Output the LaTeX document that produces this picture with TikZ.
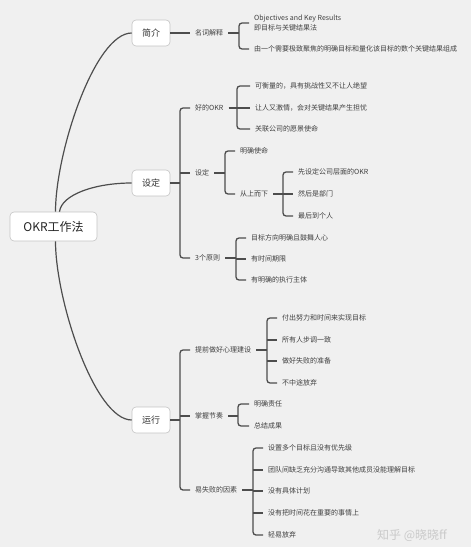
\documentclass[tikz,border=0pt]{standalone}
\usepackage{fontspec}
\setmainfont{Noto Sans CJK SC}
\definecolor{bg}{HTML}{F0F0F0}
\definecolor{ln}{HTML}{4D4D4D}
\definecolor{tx}{HTML}{404040}
\definecolor{bd}{HTML}{C4C4C4}
\definecolor{wm}{HTML}{CACACA}
\begin{document}
\begin{tikzpicture}[x=1pt,y=-1pt,
  conn/.style={draw=ln, line width=1.3pt},
  brk/.style={conn, rounded corners=3pt},
  curve/.style={draw=ln, line width=1.2pt},
  rootbox/.style={draw=bd, fill=white, rounded corners=4pt, line width=0.6pt, minimum width=87pt, minimum height=29pt, inner sep=0pt, font=\fontsize{12}{14}\selectfont, text=black!85},
  topic/.style={draw=bd, fill=white, rounded corners=4pt, line width=0.6pt, minimum width=38pt, minimum height=26pt, inner sep=0pt, font=\fontsize{9}{11}\selectfont, text=black!80},
  lab/.style={anchor=west, inner xsep=5pt, inner ysep=1pt, font=\fontsize{7}{10}\selectfont, text=tx},
]
\path[fill=white] (0,0) rectangle (474,553);
\path[fill=bg] (0,0) rectangle (471,547);
\useasboundingbox (0,0) rectangle (474,553);

% main topics
\node[rootbox] (root) at (53.5,226.5) {OKR工作法};
\node[topic] (jj) at (151,33) {简介};
\node[topic] (sd) at (151,183) {设定};
\node[topic] (yx) at (151,420) {运行};

\draw[curve] ([xshift=2pt]root.north) .. controls +(0,-59) and +(-37,0) .. (jj.west);
\draw[curve] ([xshift=6pt]root.north) .. controls +(2,-17) and +(-37,0) .. (sd.west);
\draw[curve] ([xshift=2pt]root.south) .. controls +(0,59) and +(-37,0) .. (yx.west);

% 简介
\node[lab] (mc) at (190,33) {名词解释};
\node[lab, align=left] (okr) at (249,23) {Objectives and Key Results\\即目标与关键结果法};
\node[lab] (zc) at (249,49) {由一个需要极致聚焦的明确目标和量化该目标的数个关键结果组成};
\coordinate (b0) at (239,33);
\draw[conn] (jj.east) -- (mc.west);
\draw[conn] (mc.east) -- (b0);
\draw[brk] (okr.west) -| (b0) |- (zc.west);

% 设定
\coordinate (t1) at (180,183);
\node[lab] (hk) at (190,108) {好的OKR};
\node[lab] (sd2) at (190,173) {设定};
\node[lab] (yz) at (190,258) {3个原则};
\draw[conn] (sd.east) -- (t1);
\draw[brk] (hk.west) -| (t1) |- (yz.west);
\draw[conn] (t1 |- sd2.west) -- (sd2.west);

\node[lab] (h1) at (250,86) {可衡量的，具有挑战性又不让人绝望};
\node[lab] (h2) at (250,108) {让人又激情，会对关键结果产生担忧};
\node[lab] (h3) at (250,129) {关联公司的愿景使命};
\coordinate (b1) at (237,108);
\draw[conn] (hk.east) -- (b1);
\draw[brk] (h1.west) -| (b1) |- (h3.west);
\draw[conn] (b1) -- (h2.west);

\node[lab] (s1) at (235,151) {明确使命};
\node[lab] (s2) at (235,194) {从上而下};
\coordinate (b2) at (225,173);
\draw[conn] (sd2.east) -- (b2);
\draw[brk] (s1.west) -| (b2) |- (s2.west);

\node[lab] (c1) at (293,172) {先设定公司层面的OKR};
\node[lab] (c2) at (293,194) {然后是部门};
\node[lab] (c3) at (293,216) {最后到个人};
\coordinate (b3) at (283,194);
\draw[conn] (s2.east) -- (b3);
\draw[brk] (c1.west) -| (b3) |- (c3.west);
\draw[conn] (b3) -- (c2.west);

\node[lab] (p1) at (246,238) {目标方向明确且鼓舞人心};
\node[lab] (p2) at (246,259) {有时间期限};
\node[lab] (p3) at (246,280) {有明确的执行主体};
\coordinate (b4) at (236,258);
\draw[conn] (yz.east) -- (b4);
\draw[brk] (p1.west) -| (b4) |- (p3.west);
\draw[conn] (b4 |- p2.west) -- (p2.west);

% 运行
\coordinate (t2) at (180,420);
\node[lab] (r1) at (190,350) {提前做好心理建设};
\node[lab] (r2) at (190,416) {掌握节奏};
\node[lab] (r3) at (190,490) {易失败的因素};
\draw[conn] (yx.east) -- (t2);
\draw[brk] (r1.west) -| (t2) |- (r3.west);
\draw[conn] (t2 |- r2.west) -- (r2.west);

\node[lab] (q1) at (277,318) {付出努力和时间来实现目标};
\node[lab] (q2) at (277,340) {所有人步调一致};
\node[lab] (q3) at (277,361) {做好失败的准备};
\node[lab] (q4) at (277,383) {不中途放弃};
\coordinate (b5) at (267,350);
\draw[conn] (r1.east) -- (b5);
\draw[brk] (q1.west) -| (b5) |- (q4.west);
\draw[conn] (b5 |- q2.west) -- (q2.west);
\draw[conn] (b5 |- q3.west) -- (q3.west);

\node[lab] (m1) at (249,404) {明确责任};
\node[lab] (m2) at (249,426) {总结成果};
\coordinate (b6) at (238,416);
\draw[conn] (r2.east) -- (b6);
\draw[brk] (m1.west) -| (b6) |- (m2.west);

\node[lab] (f1) at (263,448) {设置多个目标且没有优先级};
\node[lab] (f2) at (263,470) {团队间缺乏充分沟通导致其他成员没能理解目标};
\node[lab] (f3) at (263,491) {没有具体计划};
\node[lab] (f4) at (263,513) {没有把时间花在重要的事情上};
\node[lab] (f5) at (263,535) {轻易放弃};
\coordinate (b7) at (253,490);
\draw[conn] (r3.east) -- (b7);
\draw[brk] (f1.west) -| (b7) |- (f5.west);
\draw[conn] (b7 |- f2.west) -- (f2.west);
\draw[conn] (b7 |- f3.west) -- (f3.west);
\draw[conn] (b7 |- f4.west) -- (f4.west);

\node[font=\fontsize{12}{14}\selectfont, text=wm, anchor=west, inner sep=0pt] (wmk) at (377,535) {知乎 @晓晓ff};
\end{tikzpicture}
\end{document}
